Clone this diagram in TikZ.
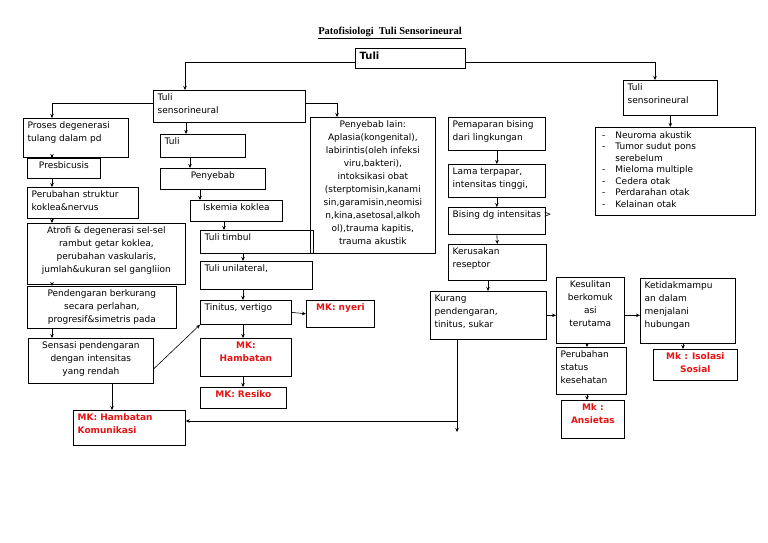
\documentclass[tikz,border=0pt]{standalone}
\usepackage{fontspec}
\setmainfont{DejaVu Sans}
\newfontfamily\ttlfont{Liberation Serif}
\usetikzlibrary{arrows.meta,calc}
\definecolor{mkred}{RGB}{230,20,20}
\newcommand\Bx[7][align=left]{%
  \node[box,anchor=north west,minimum width={#5-#3},minimum height={#6-#4}] (#2) at (#3,#4) {};
  \node[anchor=north,inner sep=0pt,#1] at ([shift={(0,3.5)}]#2.north) {#7};}
\newcommand\Bl[7][]{%
  \node[box,anchor=north west,minimum width={#5-#3},minimum height={#6-#4}] (#2) at (#3,#4) {};
  \node[anchor=north west,inner sep=0pt,align=left,#1] at ([shift={(4.5,3.5)}]#2.north west) {#7};}
\begin{document}
\begin{tikzpicture}[x=1pt,y=-1pt,
  box/.style={draw,line width=0.7pt,inner sep=0pt},
  conn/.style={line width=0.6pt,-{Stealth[length=4pt,width=3.5pt]}},
  mk/.style={text=mkred,font=\bfseries\fontsize{9}{13}\selectfont},
  every node/.style={font=\fontsize{9}{13}\selectfont}]
\useasboundingbox[fill=white] (0,0) rectangle (768,543);
\node[font=\ttlfont\bfseries\fontsize{10.5}{12}\selectfont] (title) at (390,33) {\underline{Patofisiologi\ \ Tuli Sensorineural}};
\Bl[font=\bfseries\fontsize{10}{12}\selectfont]{tuli}{355}{48}{465}{68}{Tuli}
\Bl{sens}{153}{90}{305}{122}{Tuli\\sensorineural}
\Bl{proses}{23}{118}{128}{157}{Proses degenerasi\\tulang dalam pd}
\Bx[align=center]{presb}{27}{158}{100}{178}{Presbicusis}
\Bl{perub}{27}{187}{138}{218}{Perubahan struktur\\koklea\&nervus}
\Bx[align=center]{atrofi}{27}{223}{185}{284}{Atrofi \& degenerasi sel-sel\\rambut getar koklea,\\perubahan vaskularis,\\jumlah\&ukuran sel gangliion}
\Bx[align=center]{pend}{27}{286}{176}{328}{Pendengaran berkurang\\secara perlahan,\\progresif\&simetris pada}
\Bx[align=center]{sensasi}{28}{338}{153}{383}{Sensasi pendengaran\\dengan intensitas\\yang rendah}
\Bl[mk]{mkkom}{73}{410}{185}{445}{MK: Hambatan\\Komunikasi}
\Bl{mendadak}{160}{134}{245}{157}{Tuli}
\Bx[align=center]{penyebab}{160}{168}{265}{189}{Penyebab}
\Bx[align=center]{iskemia}{190}{200}{282}{221}{Iskemia koklea}
\Bl{timbul}{200}{230}{313}{253}{Tuli timbul}
\Bl{unilat}{200}{261}{312}{289}{Tuli unilateral,}
\Bl{tinitus}{200}{300}{291}{324}{Tinitus, vertigo}
\Bx[mk,align=center]{nyeri}{306}{300}{374}{327}{MK: nyeri}
\Bx[mk,align=center]{mobil}{200}{338}{291}{376}{MK:\\Hambatan}
\Bx[mk,align=center]{resiko}{200}{387}{286}{408}{MK: Resiko}
\Bx[align=center]{lain}{310}{117}{435}{253}{Penyebab lain:\\Aplasia(kongenital),\\labirintis(oleh infeksi\\viru,bakteri),\\intoksikasi obat\\(sterptomisin,kanami\\sin,garamisin,neomisi\\n,kina,asetosal,alkoh\\ol),trauma kapitis,\\trauma akustik}
\Bl{pemap}{448}{117}{545}{150}{Pemaparan bising\\dari lingkungan}
\Bl{lama}{448}{164}{545}{197}{Lama terpapar,\\intensitas tinggi,}
\Bl{bising}{448}{207}{545}{234}{Bising dg intensitas >}
\Bl{kerus}{448}{244}{546}{280}{Kerusakan\\reseptor}
\Bl{kurang}{430}{291}{546}{339}{Kurang\\pendengaran,\\tinitus, sukar}
\Bx[align=center]{kesul}{556}{277}{624}{343}{Kesulitan\\berkomuk\\asi\\terutama}
\Bl{status}{556}{347}{626}{394}{Perubahan\\status\\kesehatan}
\Bx[mk,align=center]{ansietas}{561}{400}{624}{438}{Mk :\\Ansietas}
\Bl{ketid}{640}{278}{735}{343}{Ketidakmampu\\an dalam\\menjalani\\hubungan}
\Bx[mk,align=center]{isolasi}{653}{349}{737}{380}{Mk : Isolasi\\Sosial}
\Bl{sens2}{623}{80}{717}{115}{Tuli\\sensorineural}
\node[box,anchor=north west,minimum width=160,minimum height=88] (list) at (595,127) {};
\node[anchor=north west,inner sep=0pt,font=\fontsize{9}{11.5}\selectfont] at ([shift={(7,3)}]list.north west) {%
\begin{tabular}{@{}l@{\hspace{10pt}}l@{}}
-&Neuroma akustik\\-&Tumor sudut pons\\&serebelum\\-&Mieloma multiple\\-&Cedera otak\\-&Perdarahan otak\\-&Kelainan otak\end{tabular}};
% connectors
\coordinate (c1) at (185,62); \coordinate (c2) at (655,62);
\draw[conn] (tuli.west|-c1) -- (c1) -- (c1|-sens.north);
\draw[conn] (tuli.east|-c2) -- (c2) -- (c2|-sens2.north);
\coordinate (c3) at (52,103); \coordinate (c4) at (337,103);
\draw[conn] (sens.west|-c3) -- (c3) -- (c3|-proses.north);
\draw[conn] (sens.east|-c4) -- (c4) -- (c4|-lain.north);
\draw[conn] (sens.south-|186,0) -- (mendadak.north-|186,0);
\draw[conn] (52,157) -- (presb.north-|52,0);
\draw[conn] (52,178) -- (perub.north-|52,0);
\draw[conn] (52,218) -- (atrofi.north-|52,0);
\draw[conn] (52,284) -- (pend.north-|52,0);
\draw[conn] (52,328) -- (sensasi.north-|52,0);
\draw[conn] (190,157) -- (penyebab.north-|190,0);
\draw[conn] (200,189) -- (iskemia.north-|200,0);
\draw[conn] (224,221) -- (timbul.north-|224,0);
\draw[conn] (243,253) -- (unilat.north-|243,0);
\draw[conn] (243,289) -- (tinitus.north-|243,0);
\draw[conn] (243,324) -- (mobil.north-|243,0);
\draw[conn] (243,376) -- (resiko.north-|243,0);
\draw[conn] (tinitus.east) -- (nyeri.west);
\draw[conn] ([yshift=-8]sensasi.east) -- (tinitus.south west);
\draw[conn] (112,383) -- (mkkom.north-|112,0);
\draw[conn] (pemap.south) -- (lama.north);
\draw[conn] (lama.south) -- (bising.north);
\draw[conn] (bising.south) -- (kerus.north);
\draw[conn] (488,280) -- (kurang.north-|488,0);
\draw[conn] (sens2.south) -- (list.north-|sens2.south);
\draw[conn] (kurang.east) -- (kesul.west|-kurang.east);
\draw[conn] (kesul.east|-kurang.east) -- (ketid.west|-kurang.east);
\draw[conn] (587,343) -- (status.north-|587,0);
\draw[conn] (587,394) -- (ansietas.north-|587,0);
\draw[conn] (683,343) -- (isolasi.north-|683,0);
\coordinate (kb) at (457,432);
\draw[conn] (kurang.south-|kb) -- (kb);
\draw[conn] (457,421) -- (mkkom.east|-0,421);
\end{tikzpicture}
\end{document}
